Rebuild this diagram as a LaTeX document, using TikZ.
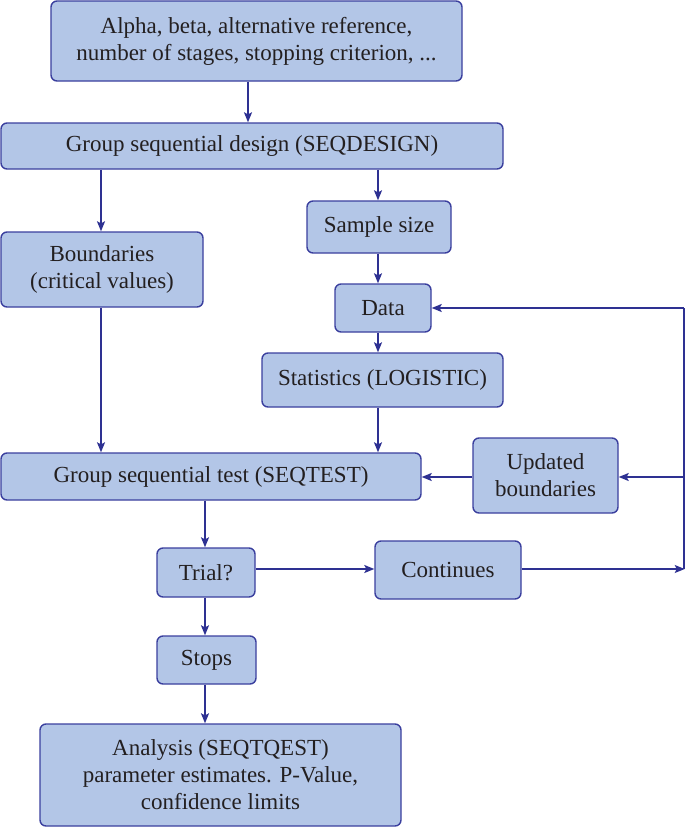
\documentclass[tikz,border=0pt]{standalone}
\usepackage{fontspec}
\setmainfont{Liberation Serif}
\usetikzlibrary{arrows.meta,calc}
\definecolor{boxfill}{HTML}{B3C6E7}
\definecolor{boxdraw}{HTML}{3A3F9E}
\definecolor{arrcol}{HTML}{2E3192}
\definecolor{txt}{HTML}{231F20}
\tikzset{
  bx/.style={draw=boxdraw, fill=boxfill, line width=1.4pt, rounded corners=6pt,
    inner sep=0pt, align=center, text=txt, font=\fontsize{23}{27}\selectfont},
  arr/.style={draw=arrcol, line width=1.3pt, -{Stealth[length=10pt,width=8pt,inset=2pt]}},
  ln/.style={draw=arrcol, line width=1.3pt},
}
\newcommand{\bxnode}[6]{% name, cx, cy, w, h, text
  \node[bx, minimum width=#4pt, minimum height=#5pt] (#1) at (#2,-#3) {#6};}
\begin{document}
\begin{tikzpicture}[x=1pt,y=1pt]
\useasboundingbox (0,0) rectangle (685,-827);
\bxnode{top}{256.5}{41}{411}{80}{Alpha, beta, alternative reference,\\number of stages, stopping criterion, ...}
\bxnode{design}{252}{146}{502}{46}{Group sequential design (SEQDESIGN)}
\bxnode{bound}{102}{269.5}{202}{75}{Boundaries\\(critical values)}
\bxnode{sample}{379}{227}{144}{52}{Sample size}
\bxnode{data}{383}{308}{96}{48}{Data}
\bxnode{stats}{382.5}{380}{241}{54}{Statistics (LOGISTIC)}
\bxnode{test}{211}{476.5}{420}{47}{Group sequential test (SEQTEST)}
\bxnode{upd}{545.5}{475.5}{145}{75}{Updated\\boundaries}
\bxnode{trial}{206}{572.5}{98}{49}{Trial?}
\bxnode{cont}{448}{570}{146}{58}{Continues}
\bxnode{stops}{206.5}{660}{99}{48}{Stops}
\bxnode{ana}{220.5}{775}{361}{102}{Analysis (SEQTQEST)\\parameter estimates. P-Value,\\confidence limits}
% helper coordinates
\coordinate (xa) at (248,0);
\coordinate (xb) at (101,0);
\coordinate (xc) at (378,0);
\coordinate (xd) at (205,0);
\coordinate (yt) at (0,-569);
\coordinate (R) at (684,-569);
\coordinate (Rtop) at (684,-308);
\coordinate (Rmid) at (684,-477);
% connectors
\draw[arr] (top.south -| xa) -- (design.north -| xa);
\draw[arr] (design.south -| xb) -- (bound.north -| xb);
\draw[arr] (design.south -| xc) -- (sample.north -| xc);
\draw[arr] (sample.south -| xc) -- (data.north -| xc);
\draw[arr] (data.south -| xc) -- (stats.north -| xc);
\draw[arr] (stats.south -| xc) -- (test.north -| xc);
\draw[arr] (bound.south -| xb) -- (test.north -| xb);
\draw[arr] (upd.west |- Rmid) -- (test.east |- Rmid);
\draw[arr] (test.south -| xd) -- (trial.north -| xd);
\draw[arr] (trial.east |- yt) -- (cont.west |- yt);
\draw[arr] (trial.south -| xd) -- (stops.north -| xd);
\draw[arr] (stops.south -| xd) -- (ana.north -| xd);
\draw[arr] (cont.east |- yt) -- ($(R)+(0.7,0)$);
\draw[ln] (R) -- (Rtop);
\draw[arr] (Rtop) -- (data.east |- Rtop);
\draw[arr] (Rmid) -- (upd.east |- Rmid);
\end{tikzpicture}
\end{document}
